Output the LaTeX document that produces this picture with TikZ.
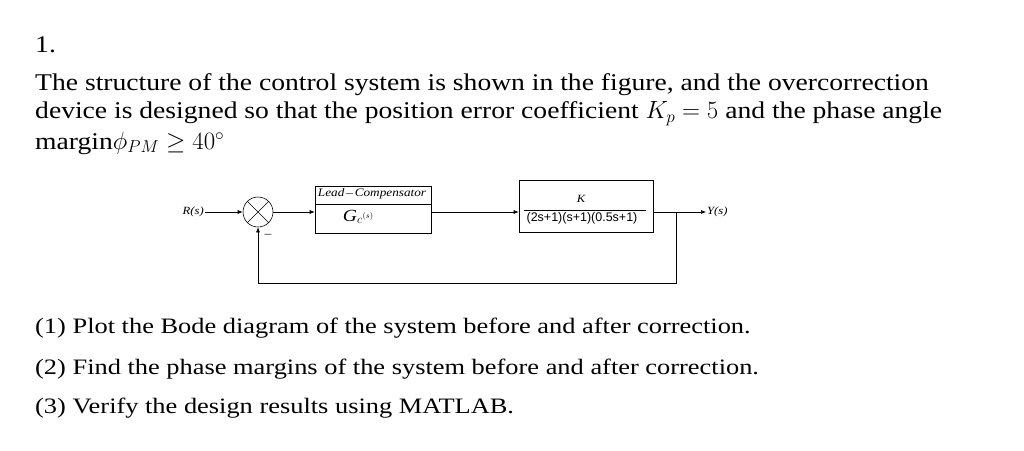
\documentclass[tikz,border=0pt]{standalone}
\usepackage{amsmath,amssymb}
\usepackage{fontspec}
\setmainfont{Liberation Serif}[FakeStretch=1.15]
\newfontfamily\qfont{Liberation Serif}[FakeStretch=1.2]
\newfontfamily\dfont{Liberation Sans}
\usetikzlibrary{arrows.meta}
\begin{document}
\begin{tikzpicture}[x=1pt,y=-1pt,
  txt/.style={anchor=west,inner sep=0pt,font=\fontsize{24}{28}\selectfont},
  qtxt/.style={anchor=west,inner sep=0pt,font=\qfont\fontsize{22}{26}\selectfont},
  blk/.style={draw,line width=0.6pt,inner sep=0pt},
  sig/.style={-{Latex[length=5pt,width=4pt]},line width=0.6pt},
  small/.style={font=\fontsize{11}{12}\selectfont\itshape,inner sep=1pt}]
\useasboundingbox (0,0) rectangle (1024,450);
\node[txt] (n1) at (35,45) {1.};
\node[txt] (l1) at (35,85) {The structure of the control system is shown in the figure, and the overcorrection};
\node[txt] (l2) at (35,114) {device is designed so that the position error coefficient $K_p=5$ and the phase angle};
\node[txt] (l3) at (35,143) {margin$\phi_{PM}\geq 40^\circ$};
% diagram
\node[small,anchor=east] (R) at (205,212) {R(s)};
\node[draw,circle,minimum size=30pt,inner sep=0pt,line width=0.6pt] (sum) at (258,212) {};
\draw[line width=0.6pt] (sum.north west)--(sum.south east) (sum.north east)--(sum.south west);
\node[blk,minimum width=116pt,minimum height=47pt] (b1) at (373,210) {};
\draw[line width=0.6pt] (315,204)--(431,204);
\node[small,font=\fontsize{11.5}{12}\selectfont\itshape] (lc) at (372,194) {Lead\,--\,Compensator};
\node[font=\fontsize{17}{17}\selectfont,inner sep=0pt] (gc) at (358,217) {\textit{G}$_c$\raisebox{3pt}{\footnotesize$(s)$}};
\node[blk,minimum width=134pt,minimum height=52pt] (b2) at (586,206) {};
\node[small] (K) at (581,199) {K};
\draw[line width=0.5pt] (524,210)--(646,210);
\node[font=\dfont\fontsize{12.5}{13}\selectfont,inner sep=0pt] (den) at (582,218) {(2s+1)(s+1)(0.5s+1)};
\coordinate (br) at (676,212);
\node[small,anchor=west] (Y) at (706,212) {Y(s)};
\coordinate (bl) at (258,283);
\coordinate (brb) at (676,283);
\draw[sig] (R.east)--(sum.west);
\draw[sig] (sum.east)--(b1.west|-sum);
\draw[sig] (b1.east|-sum)--(b2.west|-sum);
\draw[sig] (b2.east|-sum)--(Y.west);
\draw[sig] (br)--(brb)--(bl)--(sum.south);
\node[font=\fontsize{12}{12}\selectfont] (minus) at (268,236) {--};
% questions
\node[qtxt] (q1) at (35,328) {(1) Plot the Bode diagram of the system before and after correction.};
\node[qtxt] (q2) at (35,369) {(2) Find the phase margins of the system before and after correction.};
\node[qtxt] (q3) at (35,408) {(3) Verify the design results using MATLAB.};
\end{tikzpicture}
\end{document}
